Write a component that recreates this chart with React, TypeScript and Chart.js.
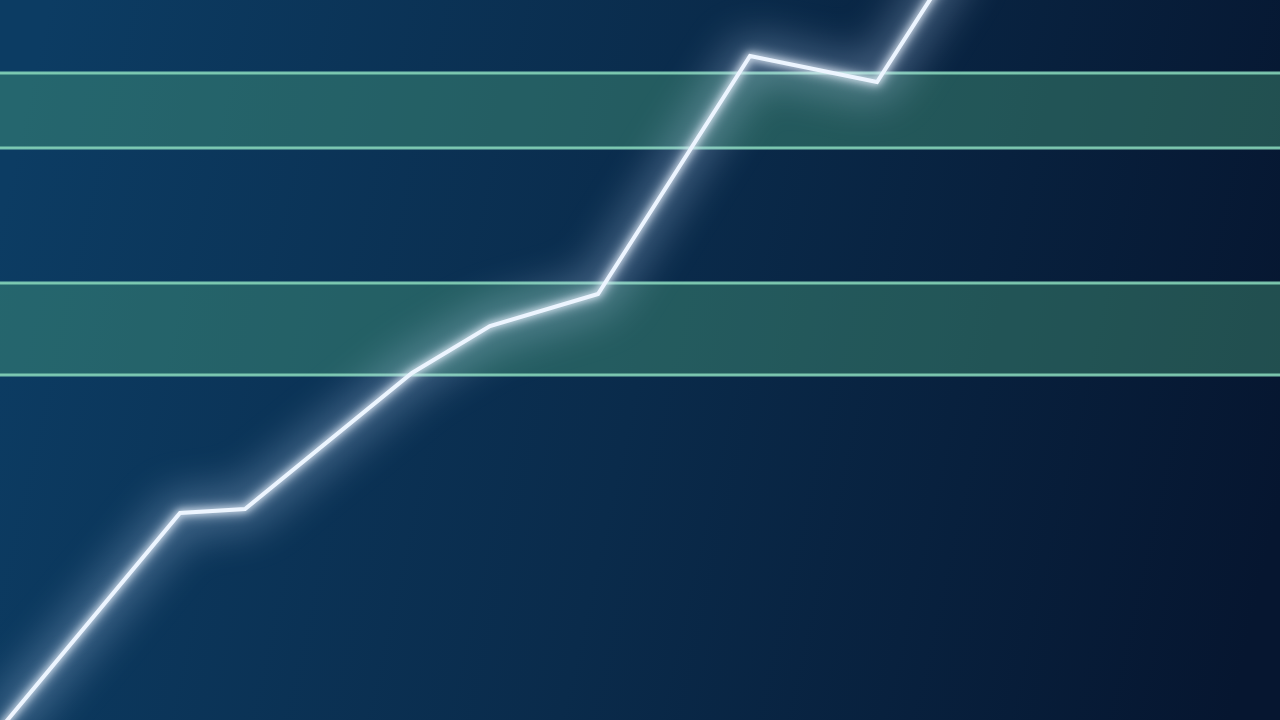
import React, { useEffect, useRef } from "react";
import { Chart, registerables } from "chart.js";

Chart.register(...registerables);

// x positions (time units) and values of the glowing line
const xValues = [0, 18, 24.5, 41.2, 49, 59.8, 75, 87.7, 96];
const yValues = [-0.9, 20.7, 21.1, 34.7, 39.4, 42.6, 66.4, 63.8, 76.7];

// horizontal bands [low, high]
const bandLows = [34.5, 57.2];
const bandHighs = [43.7, 64.7];

const xMin = 0;
const xMax = 128;
const yMin = 0;
const yMax = 72;

const backgroundPlugin = {
  id: "bgGradient",
  beforeDraw(chart: any) {
    const { ctx, width, height } = chart;
    ctx.save();
    const g = ctx.createLinearGradient(0, height * 0.3, width, height * 0.7);
    g.addColorStop(0, "#0c3c63");
    g.addColorStop(0.5, "#0a2b4b");
    g.addColorStop(1, "#061630");
    ctx.fillStyle = g;
    ctx.fillRect(0, 0, width, height);
    ctx.restore();
  },
};

const bandsPlugin = {
  id: "bands",
  beforeDatasetsDraw(chart: any) {
    const { ctx, chartArea } = chart;
    const y = chart.scales.y;
    ctx.save();
    for (let i = 0; i < bandLows.length; i++) {
      const top = y.getPixelForValue(bandHighs[i]);
      const bottom = y.getPixelForValue(bandLows[i]);
      ctx.fillStyle = "rgba(80,170,130,0.38)";
      ctx.fillRect(chartArea.left, top, chartArea.right - chartArea.left, bottom - top);
      ctx.strokeStyle = "rgba(140,220,190,0.85)";
      ctx.lineWidth = 3;
      ctx.beginPath();
      ctx.moveTo(chartArea.left, top);
      ctx.lineTo(chartArea.right, top);
      ctx.moveTo(chartArea.left, bottom);
      ctx.lineTo(chartArea.right, bottom);
      ctx.stroke();
    }
    ctx.restore();
  },
};

const glowPlugin = {
  id: "glow",
  beforeDatasetDraw(chart: any, args: any) {
    const ctx = chart.ctx;
    ctx.save();
    if (args.index === 0) {
      ctx.filter = "blur(22px)";
    } else if (args.index === 1) {
      ctx.filter = "blur(6px)";
    } else {
      ctx.shadowColor = "rgba(255,255,255,0.9)";
      ctx.shadowBlur = 6;
    }
  },
  afterDatasetDraw(chart: any) {
    chart.ctx.restore();
  },
};

export default function App() {
  const ref = useRef<HTMLCanvasElement | null>(null);

  useEffect(() => {
    if (!ref.current) return;
    const points = xValues.map((x, i) => ({ x, y: yValues[i] }));
    const common = { data: points, pointRadius: 0, tension: 0 };
    const chart = new Chart(ref.current, {
      type: "line",
      data: {
        datasets: [
          {
            ...common,
            borderColor: "rgba(200,225,255,0.42)",
            borderWidth: 30,
            borderJoinStyle: "round",
          },
          {
            ...common,
            borderColor: "rgba(235,245,255,0.65)",
            borderWidth: 9,
            borderJoinStyle: "round",
          },
          {
            ...common,
            borderColor: "#ffffff",
            borderWidth: 4,
            borderJoinStyle: "miter",
          },
        ],
      },
      options: {
        animation: false,
        responsive: false,
        devicePixelRatio: 1,
        layout: { padding: 0 },
        plugins: {
          legend: { display: false },
          tooltip: { enabled: false },
        },
        scales: {
          x: { type: "linear", min: xMin, max: xMax, display: false },
          y: { type: "linear", min: yMin, max: yMax, display: false },
        },
      },
      plugins: [backgroundPlugin, bandsPlugin, glowPlugin],
    } as any);
    return () => chart.destroy();
  }, []);

  return (
    <div style={{ position: "fixed", left: 0, top: 0, width: 1280, height: 720 }}>
      <canvas ref={ref} width={1280} height={720} style={{ display: "block" }} />
    </div>
  );
}
